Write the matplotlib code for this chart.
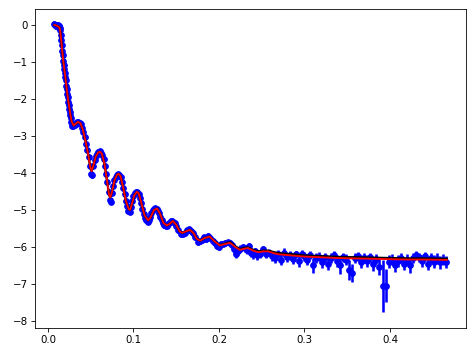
import matplotlib
matplotlib.use("Agg")
import matplotlib.pyplot as plt

# ---- measured data (blue points with error bars) ----
q_data = [
    0.0076, 0.0082, 0.0088, 0.0094, 0.0100, 0.0106, 0.0112, 0.0118, 0.0124, 0.0130, 0.0136,
    0.0142, 0.0148, 0.0154, 0.0160, 0.0166, 0.0172, 0.0178, 0.0184, 0.0190, 0.0196,
    0.0202, 0.0208, 0.0214, 0.0220, 0.0226, 0.0232, 0.0238, 0.0244, 0.0250, 0.0256,
    0.0262, 0.0268, 0.0274, 0.0280, 0.0286, 0.0292, 0.0298,
    0.0310, 0.0325, 0.0340, 0.0355, 0.0370, 0.0385, 0.0400, 0.0415, 0.0430, 0.0445,
    0.0460, 0.0475, 0.0490, 0.0505, 0.0515, 0.0530, 0.0545, 0.0560, 0.0575, 0.0590,
    0.0605, 0.0620, 0.0635, 0.0650, 0.0665, 0.0680, 0.0695, 0.0710, 0.0722, 0.0732,
    0.0745, 0.0760, 0.0775, 0.0790, 0.0805, 0.0820, 0.0835, 0.0850, 0.0865, 0.0880,
    0.0895, 0.0910, 0.0925, 0.0940, 0.0955, 0.0970, 0.0985, 0.1000, 0.1015, 0.1030,
    0.1045, 0.1060, 0.1075, 0.1090, 0.1105, 0.1120, 0.1135, 0.1150, 0.1165, 0.1180,
    0.1195, 0.1210, 0.1225, 0.1240, 0.1255, 0.1270, 0.1285, 0.1300, 0.1315, 0.1330,
    0.1345, 0.1360, 0.1375, 0.1390, 0.1405, 0.1420, 0.1435, 0.1450, 0.1465, 0.1480,
    0.1500, 0.1525, 0.1550, 0.1575, 0.1600, 0.1625, 0.1650, 0.1675, 0.1700, 0.1725,
    0.1750, 0.1775, 0.1800, 0.1825, 0.1850, 0.1875, 0.1900, 0.1925, 0.1950, 0.1975,
    0.2000, 0.2025, 0.2050, 0.2075, 0.2100, 0.2125, 0.2150, 0.2175, 0.2200, 0.2225,
    0.2250, 0.2275, 0.2300, 0.2325, 0.2350, 0.2375, 0.2400, 0.2425, 0.2450, 0.2475,
    0.2510, 0.2545, 0.2580, 0.2615, 0.2650, 0.2685, 0.2720, 0.2755, 0.2790, 0.2825,
    0.2860, 0.2895, 0.2930, 0.2965, 0.3000, 0.3035, 0.3070, 0.3105, 0.3140, 0.3175,
    0.3210, 0.3245, 0.3280, 0.3315, 0.3350, 0.3385, 0.3420, 0.3455, 0.3490, 0.3525,
    0.3560, 0.3595, 0.3630, 0.3665, 0.3700, 0.3735, 0.3770, 0.3805, 0.3840, 0.3875,
    0.3915, 0.3955, 0.3990, 0.4025, 0.4060, 0.4095, 0.4130, 0.4165, 0.4200, 0.4235,
    0.4270, 0.4305, 0.4340, 0.4375, 0.4410, 0.4445, 0.4480, 0.4515, 0.4550, 0.4585,
    0.4620, 0.4655,
]
y_data = [
    0.02, 0.01, -0.03, 0.00, -0.02, 0.01, -0.01, -0.05, -0.02, -0.04, -0.08,
    -0.15, -0.27, -0.41, -0.54, -0.70, -0.82, -0.97, -1.07, -1.20, -1.29,
    -1.41, -1.50, -1.64, -1.74, -1.88, -1.96, -2.08, -2.16, -2.27, -2.34,
    -2.44, -2.51, -2.61, -2.66, -2.72, -2.73, -2.71,
    -2.70, -2.67, -2.63, -2.62, -2.64, -2.69, -2.78, -2.89, -3.04, -3.21,
    -3.39, -3.58, -3.80, -4.02, -4.06, -3.82, -3.66, -3.55, -3.48, -3.44,
    -3.42, -3.45, -3.52, -3.63, -3.80, -4.02, -4.25, -4.52, -4.74, -4.78,
    -4.55, -4.35, -4.20, -4.10, -4.05, -4.03, -4.05, -4.12, -4.25, -4.42,
    -4.58, -4.76, -4.90, -5.02, -5.05, -4.92, -4.76, -4.63, -4.55, -4.51,
    -4.52, -4.57, -4.67, -4.82, -4.97, -5.12, -5.22, -5.28, -5.32, -5.27,
    -5.18, -5.08, -5.01, -4.97, -4.95, -4.97, -5.02, -5.09, -5.18, -5.28,
    -5.36, -5.42, -5.44, -5.43, -5.39, -5.35, -5.31, -5.30, -5.32, -5.36,
    -5.43, -5.55, -5.66, -5.64, -5.61, -5.55, -5.52, -5.57, -5.63, -5.74,
    -5.86, -5.84, -5.80, -5.74, -5.78, -5.70, -5.76, -5.84, -5.90, -5.97,
    -6.00, -5.93, -5.92, -5.90, -5.87, -5.90, -5.94, -6.05, -6.18, -6.12,
    -6.05, -6.00, -6.04, -6.08, -5.98, -6.15, -6.20, -6.12, -6.22, -6.18,
    -6.05, -6.20, -6.15, -6.25, -6.30, -6.18, -6.35, -6.15, -6.28, -6.22,
    -6.32, -6.20, -6.38, -6.18, -6.25, -6.35, -6.22, -6.50, -6.30, -6.26,
    -6.40, -6.28, -6.45, -6.30, -6.22, -6.38, -6.50, -6.28, -6.35, -6.62,
    -6.70, -6.30, -6.25, -6.40, -6.30, -6.38, -6.28, -6.45, -6.32, -6.55,
    -7.05, -7.05, -6.40, -6.35, -6.48, -6.38, -6.30, -6.45, -6.35, -6.50,
    -6.30, -6.22, -6.28, -6.38, -6.25, -6.45, -6.30, -6.40, -6.32, -6.42,
    -6.35, -6.40,
]
y_err = [
    0.08, 0.07, 0.07, 0.07, 0.07, 0.06, 0.06, 0.06, 0.06, 0.06, 0.06,
    0.05, 0.05, 0.05, 0.05, 0.05, 0.05, 0.05, 0.05, 0.05, 0.05,
    0.05, 0.05, 0.05, 0.05, 0.05, 0.05, 0.05, 0.05, 0.05, 0.05,
    0.05, 0.05, 0.05, 0.05, 0.05, 0.05, 0.05,
    0.04, 0.04, 0.04, 0.04, 0.04, 0.04, 0.04, 0.04, 0.04, 0.04,
    0.04, 0.04, 0.05, 0.06, 0.07, 0.05, 0.04, 0.04, 0.04, 0.04,
    0.04, 0.04, 0.04, 0.04, 0.04, 0.04, 0.05, 0.05, 0.07, 0.07,
    0.05, 0.05, 0.04, 0.04, 0.04, 0.04, 0.04, 0.04, 0.04, 0.05,
    0.05, 0.05, 0.05, 0.06, 0.06, 0.05, 0.05, 0.05, 0.05, 0.04,
    0.04, 0.05, 0.05, 0.05, 0.05, 0.06, 0.06, 0.06, 0.06, 0.06,
    0.05, 0.05, 0.05, 0.05, 0.05, 0.05, 0.05, 0.05, 0.06, 0.06,
    0.06, 0.06, 0.06, 0.06, 0.06, 0.06, 0.06, 0.06, 0.06, 0.06,
    0.06, 0.07, 0.08, 0.07, 0.07, 0.07, 0.07, 0.07, 0.07, 0.08,
    0.09, 0.08, 0.08, 0.07, 0.08, 0.07, 0.07, 0.08, 0.08, 0.09,
    0.09, 0.08, 0.08, 0.08, 0.07, 0.08, 0.08, 0.10, 0.12, 0.10,
    0.09, 0.08, 0.09, 0.10, 0.08, 0.11, 0.12, 0.10, 0.12, 0.11,
    0.08, 0.10, 0.09, 0.12, 0.14, 0.10, 0.15, 0.11, 0.13, 0.12,
    0.14, 0.10, 0.16, 0.11, 0.12, 0.15, 0.11, 0.20, 0.14, 0.12,
    0.17, 0.13, 0.18, 0.14, 0.11, 0.16, 0.22, 0.13, 0.15, 0.28,
    0.25, 0.14, 0.12, 0.17, 0.14, 0.16, 0.13, 0.19, 0.14, 0.22,
    0.70, 0.45, 0.17, 0.15, 0.19, 0.16, 0.13, 0.18, 0.15, 0.20,
    0.14, 0.11, 0.12, 0.16, 0.12, 0.18, 0.14, 0.17, 0.15, 0.17,
    0.15, 0.16,
]

# ---- model curves ----
q_fit = [
    0.0075, 0.0100, 0.0130, 0.0140, 0.0152, 0.0164, 0.0180, 0.0205, 0.0225, 0.0250,
    0.0275, 0.0300, 0.0330, 0.0350, 0.0380, 0.0410, 0.0440, 0.0470, 0.0495, 0.0510,
    0.0530, 0.0560, 0.0590, 0.0610, 0.0630, 0.0660, 0.0690, 0.0715, 0.0728, 0.0750,
    0.0780, 0.0810, 0.0830, 0.0850, 0.0880, 0.0910, 0.0945, 0.0960, 0.0980, 0.1010,
    0.1040, 0.1060, 0.1090, 0.1130, 0.1170, 0.1200, 0.1240, 0.1275, 0.1310, 0.1350,
    0.1390, 0.1420, 0.1460, 0.1500, 0.1540, 0.1570, 0.1610, 0.1660, 0.1700, 0.1740,
    0.1780, 0.1830, 0.1890, 0.1950, 0.2010, 0.2070, 0.2130, 0.2190, 0.2245, 0.2290,
    0.2340, 0.2400, 0.2460, 0.2520, 0.2580, 0.2640, 0.2700, 0.2800, 0.2900, 0.3000,
    0.3200, 0.3400, 0.3600, 0.3800, 0.4000, 0.4200, 0.4400, 0.4665,
]
y_red = [
    0.00, -0.02, -0.06, -0.12, -0.35, -0.65, -1.00, -1.45, -1.85, -2.25,
    -2.60, -2.72, -2.66, -2.62, -2.66, -2.85, -3.15, -3.50, -3.85, -3.95,
    -3.80, -3.55, -3.44, -3.43, -3.48, -3.75, -4.20, -4.60, -4.66, -4.50,
    -4.18, -4.04, -4.03, -4.10, -4.40, -4.75, -4.98, -5.00, -4.85, -4.60,
    -4.51, -4.55, -4.80, -5.15, -5.28, -5.20, -5.00, -4.96, -5.10, -5.35,
    -5.42, -5.38, -5.30, -5.40, -5.58, -5.62, -5.58, -5.54, -5.62, -5.78,
    -5.83, -5.76, -5.72, -5.85, -5.96, -5.92, -5.89, -6.00, -6.08, -6.05,
    -6.03, -6.10, -6.14, -6.12, -6.12, -6.17, -6.20, -6.22, -6.24, -6.26,
    -6.28, -6.30, -6.31, -6.32, -6.33, -6.34, -6.34, -6.35,
]
y_black = [
    0.00, -0.02, -0.06, -0.12, -0.35, -0.65, -1.00, -1.45, -1.85, -2.25,
    -2.60, -2.72, -2.66, -2.62, -2.66, -2.85, -3.15, -3.50, -3.85, -3.95,
    -3.80, -3.55, -3.44, -3.43, -3.48, -3.75, -4.20, -4.60, -4.66, -4.50,
    -4.18, -4.04, -4.03, -4.10, -4.40, -4.75, -4.98, -5.00, -4.85, -4.60,
    -4.51, -4.55, -4.80, -5.15, -5.28, -5.20, -5.00, -4.96, -5.10, -5.35,
    -5.42, -5.38, -5.30, -5.40, -5.58, -5.62, -5.58, -5.54, -5.62, -5.78,
    -5.83, -5.76, -5.72, -5.85, -5.95, -5.91, -5.87, -5.98, -6.06, -6.03,
    -6.01, -6.08, -6.12, -6.10, -6.10, -6.14, -6.17, -6.19, -6.21, -6.23,
    -6.25, -6.27, -6.28, -6.29, -6.30, -6.31, -6.31, -6.32,
]

fig = plt.figure(figsize=(474 / 74, 358 / 74), dpi=74)
ax = fig.add_axes([35 / 474, 30 / 358, 431 / 474, 319 / 358])

ax.errorbar(q_data, y_data, yerr=y_err, fmt='o', color='blue', ecolor='blue',
            markersize=5.5, elinewidth=2.5, capsize=0, zorder=1)
ax.plot(q_fit, y_black, color='black', linewidth=2.2, zorder=2)
ax.plot(q_fit, y_red, color='red', linewidth=1.8, zorder=3)

ax.set_xlim(-0.0152, 0.4889)
ax.set_ylim(-8.19, 0.43)
ax.set_xticks([0.0, 0.1, 0.2, 0.3, 0.4])
ax.set_yticks([0, -1, -2, -3, -4, -5, -6, -7, -8])

fig.savefig("out.png", dpi=74)
